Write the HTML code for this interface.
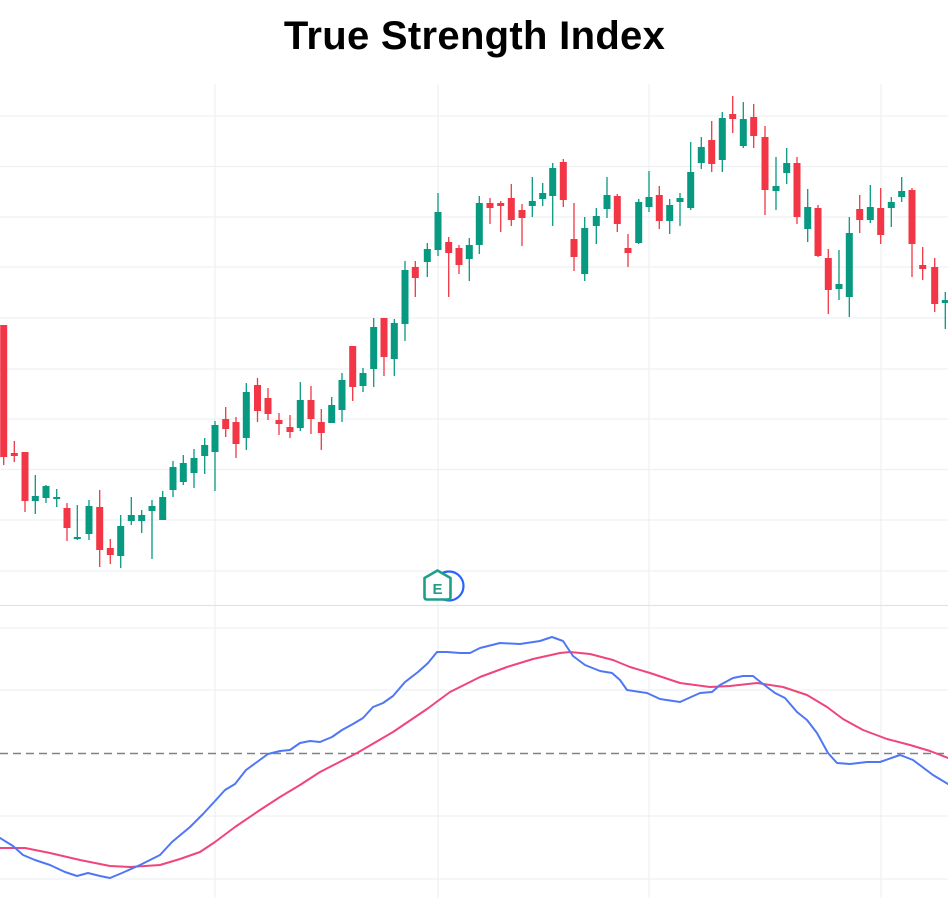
<!DOCTYPE html>
<html>
<head>
<meta charset="utf-8">
<style>
html,body{margin:0;padding:0;background:#ffffff;}
body{width:948px;height:898px;overflow:hidden;}
svg{display:block;}
</style>
</head>
<body>
<svg width="948" height="898" viewBox="0 0 948 898" xmlns="http://www.w3.org/2000/svg">
<rect x="0" y="0" width="948" height="898" fill="#ffffff"/>
<text x="474.5" y="49" text-anchor="middle" font-family="Liberation Sans, Arial, sans-serif" font-weight="bold" font-size="40" fill="#000000" letter-spacing="0.3">True Strength Index</text>
<g stroke="#eef0f3" stroke-width="1.2" fill="none">
<path d="M0 116H948M0 166.5H948M0 217H948M0 267H948M0 318H948M0 369H948M0 419H948M0 469.5H948M0 520H948M0 571H948"/>
<path d="M0 628H948M0 690H948M0 816H948M0 879H948"/>
<path d="M215 84V898M438 84V898M649 84V898M881 84V898"/>
</g>
<path d="M0 605.5H948" stroke="#e0e3eb" stroke-width="1.3"/>
<path d="M0 753.5H948" stroke="#7f828b" stroke-width="1.5" stroke-dasharray="8 5"/>
<g fill="#f23645">
<path d="M3.7 325V465M14.3 441V462M25 452V512M67 503V541M99.7 490V567M110.3 539V564M225.7 407V437M236 417V458M257.5 378V422M268 388V420M279 413V435M290 415V438M311 386V434M321.3 409V450M352.7 346V401M384 318V376M415.3 261V297M448.7 237V297M459 245V274M490 198V224M500.7 201V232M511.3 184V226M522 204V246M563.3 159V207M574 203V271M617.3 194V232M628 234V267M659.3 186V229M711.7 121V172M732.7 96V133M753.7 104V148M765 126V215M797 157V224M818 205V257M828.3 249V314M859.7 195V233M880.7 188V244M912 188V277M922.7 247V280M934.7 258V312" stroke="#f23645" stroke-width="1.3" fill="none"/>
<rect x="0.2" y="325" width="7" height="132"/>
<rect x="10.8" y="453" width="7" height="3"/>
<rect x="21.5" y="452" width="7" height="49"/>
<rect x="63.5" y="508" width="7" height="20"/>
<rect x="96.2" y="507" width="7" height="43"/>
<rect x="106.8" y="548" width="7" height="7"/>
<rect x="222.2" y="419" width="7" height="10"/>
<rect x="232.5" y="422" width="7" height="22"/>
<rect x="254" y="385" width="7" height="26"/>
<rect x="264.5" y="398" width="7" height="16"/>
<rect x="275.5" y="420" width="7" height="4"/>
<rect x="286.5" y="427" width="7" height="5"/>
<rect x="307.5" y="400" width="7" height="19"/>
<rect x="317.8" y="422" width="7" height="11"/>
<rect x="349.2" y="346" width="7" height="41"/>
<rect x="380.5" y="318" width="7" height="39"/>
<rect x="411.8" y="267" width="7" height="11"/>
<rect x="445.2" y="242" width="7" height="11"/>
<rect x="455.5" y="248" width="7" height="17"/>
<rect x="486.5" y="203" width="7" height="5"/>
<rect x="497.2" y="203" width="7" height="3"/>
<rect x="507.8" y="198" width="7" height="22"/>
<rect x="518.5" y="210" width="7" height="8"/>
<rect x="559.8" y="162" width="7" height="38"/>
<rect x="570.5" y="239" width="7" height="18"/>
<rect x="613.8" y="196" width="7" height="28"/>
<rect x="624.5" y="248" width="7" height="5"/>
<rect x="655.8" y="195" width="7" height="26"/>
<rect x="708.2" y="140" width="7" height="24"/>
<rect x="729.2" y="114" width="7" height="5"/>
<rect x="750.2" y="117" width="7" height="19"/>
<rect x="761.5" y="137" width="7" height="53"/>
<rect x="793.5" y="163" width="7" height="54"/>
<rect x="814.5" y="208" width="7" height="48"/>
<rect x="824.8" y="258" width="7" height="32"/>
<rect x="856.2" y="209" width="7" height="11"/>
<rect x="877.2" y="208" width="7" height="27"/>
<rect x="908.5" y="190" width="7" height="54"/>
<rect x="919.2" y="265" width="7" height="4"/>
<rect x="931.2" y="267" width="7" height="37"/>
</g>
<g fill="#089981">
<path d="M35.3 475V514M46 485V503M56.7 489V507M77.3 505V540M89 500V540M120.7 515V568M131.3 497V525M141.7 510V533M152 500V559M162.7 491V520M173 461V497M183.3 455V485M194 449V488M204.7 438V474M215 421V491M246.3 383V450M300.3 382V431M331.7 397V423M342 373V422M363 368V392M373.7 318V387M394.3 319V376M405 261V341M427.3 243V277M438 193V256M469.3 238V281M479.3 196V254M532.3 177V217M542.7 183V206M552.7 163V226M584.7 217V281M596.3 208V244M607 177V218M638.7 199V244M649 171V212M669.7 199V234M680 193V226M690.7 142V210M701.3 137V169M722.3 112V172M743.3 102V148M776 157V210M786.7 148V184M807.7 189V242M839 250V300M849.3 217V317M870.3 185V223M891.3 197V227M901.7 177V202M945.3 292V329" stroke="#089981" stroke-width="1.3" fill="none"/>
<rect x="31.8" y="496" width="7" height="5"/>
<rect x="42.5" y="486" width="7" height="12"/>
<rect x="53.2" y="497" width="7" height="2"/>
<rect x="73.8" y="537" width="7" height="2"/>
<rect x="85.5" y="506" width="7" height="28"/>
<rect x="117.2" y="526" width="7" height="30"/>
<rect x="127.8" y="515" width="7" height="6"/>
<rect x="138.2" y="515" width="7" height="6"/>
<rect x="148.5" y="506" width="7" height="5"/>
<rect x="159.2" y="497" width="7" height="23"/>
<rect x="169.5" y="467" width="7" height="23"/>
<rect x="179.8" y="463" width="7" height="19"/>
<rect x="190.5" y="458" width="7" height="15"/>
<rect x="201.2" y="445" width="7" height="11"/>
<rect x="211.5" y="425" width="7" height="27"/>
<rect x="242.8" y="392" width="7" height="46"/>
<rect x="296.8" y="400" width="7" height="28"/>
<rect x="328.2" y="405" width="7" height="18"/>
<rect x="338.5" y="380" width="7" height="30"/>
<rect x="359.5" y="373" width="7" height="13"/>
<rect x="370.2" y="327" width="7" height="42"/>
<rect x="390.8" y="323" width="7" height="36"/>
<rect x="401.5" y="270" width="7" height="54"/>
<rect x="423.8" y="249" width="7" height="13"/>
<rect x="434.5" y="212" width="7" height="38"/>
<rect x="465.8" y="245" width="7" height="14"/>
<rect x="475.8" y="203" width="7" height="42"/>
<rect x="528.8" y="201" width="7" height="5"/>
<rect x="539.2" y="193" width="7" height="6"/>
<rect x="549.2" y="168" width="7" height="28"/>
<rect x="581.2" y="228" width="7" height="46"/>
<rect x="592.8" y="216" width="7" height="10"/>
<rect x="603.5" y="195" width="7" height="14"/>
<rect x="635.2" y="202" width="7" height="41"/>
<rect x="645.5" y="197" width="7" height="10"/>
<rect x="666.2" y="205" width="7" height="16"/>
<rect x="676.5" y="198" width="7" height="4"/>
<rect x="687.2" y="172" width="7" height="36"/>
<rect x="697.8" y="147" width="7" height="16"/>
<rect x="718.8" y="118" width="7" height="42"/>
<rect x="739.8" y="119" width="7" height="27"/>
<rect x="772.5" y="186" width="7" height="5"/>
<rect x="783.2" y="163" width="7" height="10"/>
<rect x="804.2" y="207" width="7" height="22"/>
<rect x="835.5" y="284" width="7" height="5"/>
<rect x="845.8" y="233" width="7" height="64"/>
<rect x="866.8" y="207" width="7" height="13"/>
<rect x="887.8" y="202" width="7" height="6"/>
<rect x="898.2" y="191" width="7" height="6"/>
<rect x="941.8" y="300" width="7" height="3"/>
</g>
<circle cx="449" cy="586" r="14.5" fill="none" stroke="#2962ff" stroke-width="2.2"/>
<path d="M424.5 578 L437.5 570.5 L450.5 578 L450.5 597 Q450.5 599.5 448 599.5 L427 599.5 Q424.5 599.5 424.5 597 Z" fill="#ffffff" stroke="#1f9f88" stroke-width="2.6" stroke-linejoin="round"/>
<text x="437.5" y="594" text-anchor="middle" font-family="Liberation Sans, Arial, sans-serif" font-weight="bold" font-size="15" fill="#1f9f88">E</text>
<polyline fill="none" stroke="#f0457a" stroke-width="2" stroke-linejoin="round" stroke-linecap="round" points="0,848 25,848 50,853 80,860 110,866 130,867 160,865 180,859 200,852 215,842 235,827 260,810 280,797 300,785 320,772 357,753 393,732 427,709 450,692 480,677 507,667 533,659 560,653 570,652 590,654 613,660 630,667 650,673 680,683 710,687 730,686 757,683 783,687 807,695 827,707 843,719 863,730 887,739 910,745 930,751 948,758"/>
<polyline fill="none" stroke="#4f77f5" stroke-width="2" stroke-linejoin="round" stroke-linecap="round" points="0,838 13,846 23,855 35,860 50,865 65,872 77,876 88,873 100,876 110,878 122,873 140,865 160,855 172,842 190,827 203,814 215,801 225,790 235,784 246,770 257,762 268,754 280,751 290,750 300,743 310,741 320,742 332,737 342,730 353,724 363,718 373,707 383,703 393,696 405,682 418,672 428,663 437,652 447,652 460,653 470,653 480,648 500,643 520,644 540,641 552,637 563,641 573,656 585,665 600,671 612,673 620,680 627,690 647,693 660,699 680,702 700,693 712,692 720,685 733,678 743,676 753,676 763,684 775,693 785,698 797,712 807,720 817,733 828,753 837,763 850,764 867,762 880,762 900,755 913,760 933,775 948,784"/>
</svg>
</body>
</html>
